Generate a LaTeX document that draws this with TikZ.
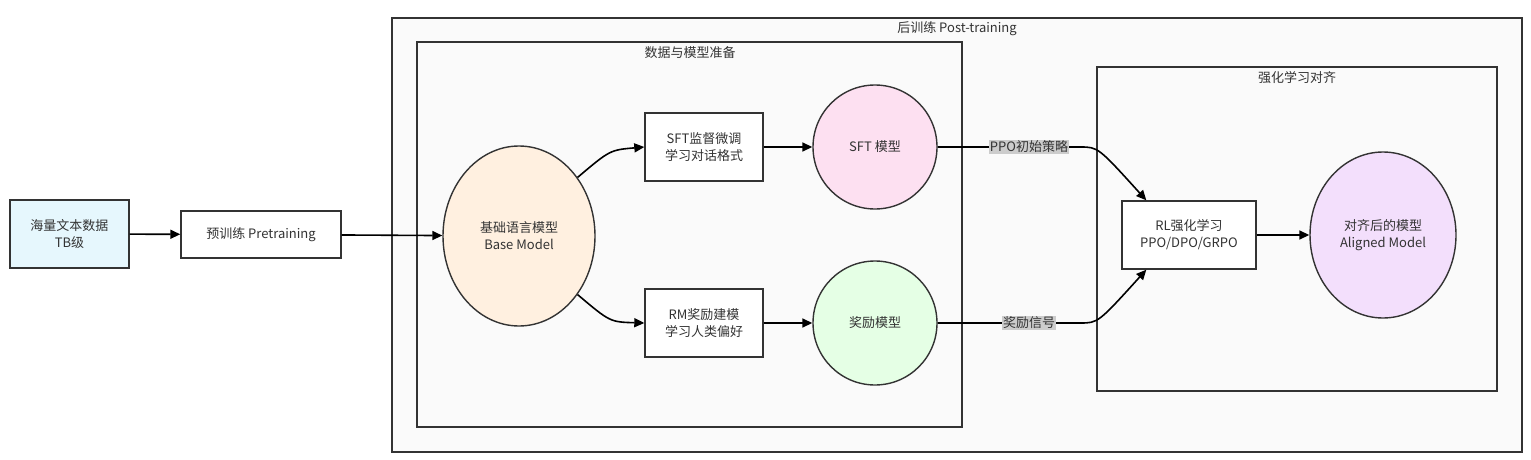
\documentclass[tikz,border=0pt]{standalone}
\usepackage{fontspec}
\setmainfont{Noto Sans CJK SC}
\usetikzlibrary{arrows.meta,shapes.geometric}
\definecolor{ln}{HTML}{333333}
\definecolor{alf}{HTML}{F3DFFC}
\begin{document}
\begin{tikzpicture}[x=1pt,y=-1pt,font=\fontsize{13}{17}\selectfont,
 every node/.style={text=ln,align=center},
 box/.style={draw=ln,line width=1.4pt,fill=white,inner sep=0},
 grp/.style={draw=ln,line width=1.2pt},
 ar/.style={-{Triangle[length=10pt,width=9pt]},line width=1.6pt,draw=black},
 lab/.style={fill=black!20,inner sep=1pt}]
\useasboundingbox (0,0) rectangle (1531,460);
\draw[grp,fill=black!2] (392,18) rectangle (1522,452);
\node (t0) at (957,29) {后训练 Post-training};
\draw[grp,fill=black!2] (417,42) rectangle (962,427);
\node (t1) at (690,53) {数据与模型准备};
\draw[grp,fill=black!2] (1097,67) rectangle (1497,391);
\node (t2) at (1297,78) {强化学习对齐};
\node[box,fill=cyan!10,minimum width=119pt,minimum height=68pt] (data) at (69.5,234) {海量文本数据\\TB级};
\node[box,minimum width=160pt,minimum height=47pt] (pre) at (261,234.5) {预训练 Pretraining};
\node[ellipse,box,fill=orange!12,minimum width=152pt,minimum height=180pt] (base) at (519,236) {基础语言模型\\Base Model};
\node[box,minimum width=118pt,minimum height=68pt] (sft) at (704,147) {SFT监督微调\\学习对话格式};
\node[box,minimum width=118pt,minimum height=68pt] (rm) at (704,323) {RM奖励建模\\学习人类偏好};
\node[circle,box,fill=magenta!12,minimum size=124pt] (sftm) at (875,147) {SFT 模型};
\node[circle,box,fill=green!10,minimum size=124pt] (rmm) at (875,323) {奖励模型};
\node[box,minimum width=134pt,minimum height=68pt] (rl) at (1189,235) {RL强化学习\\PPO/DPO/GRPO};
\node[ellipse,box,fill=alf,minimum width=146pt,minimum height=166pt] (al) at (1383,235) {对齐后的模型\\Aligned Model};
\coordinate (rlt) at ([xshift=25pt]rl.north west);
\coordinate (rlb) at ([xshift=25pt]rl.south west);
\draw[ar] (data) -- (pre);
\draw[ar] (pre) -- (base);
\draw[ar] (base.45) .. controls (610,150) .. (sft.west);
\draw[ar] (base.-45) .. controls (610,322) .. (rm.west);
\draw[ar] (sft) -- (sftm);
\draw[ar] (rm) -- (rmm);
\draw[ar] (sftm.east) -- (1080,147) .. controls (1098,147) .. (rlt);
\draw[ar] (rmm.east) -- (1080,323) .. controls (1098,323) .. (rlb);
\node[lab] (l1) at (1029,147) {PPO初始策略};
\node[lab] (l2) at (1029,323) {奖励信号};
\draw[ar] (rl) -- (al);
\end{tikzpicture}
\end{document}
